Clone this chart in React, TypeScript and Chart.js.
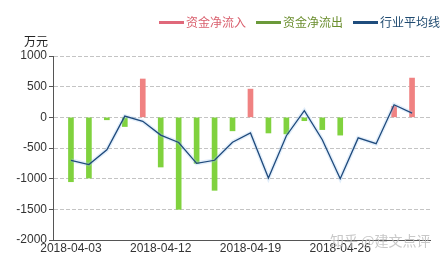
import React, { useEffect, useRef } from 'react';
import { Chart, registerables } from 'chart.js';
Chart.register(...registerables);

const dates = ['2018-04-03','2018-04-04','2018-04-09','2018-04-10','2018-04-11','2018-04-12','2018-04-13','2018-04-16','2018-04-17','2018-04-18','2018-04-19','2018-04-20','2018-04-23','2018-04-24','2018-04-25','2018-04-26','2018-04-27','2018-05-02','2018-05-03','2018-05-04'];
const netFlow = [-1050,-990,-40,-150,625,-810,-1500,-750,-1190,-220,460,-255,-270,-55,-200,-290,0,0,180,640];
const industryAvg = [-700,-770,-530,20,-65,-290,-410,-750,-700,-405,-255,-990,-300,110,-365,-1000,-335,-430,205,70];
const yTicks = [1000,500,0,-500,-1000,-1500,-2000];
const labeledDates = ['2018-04-03','2018-04-12','2018-04-19','2018-04-26'];

const seriesNames = ['资金净流入','资金净流出','行业平均线'];
const legendLineColors = ['#e0687a','#6b9a3a','#1f4d7d'];
const legendTextColors = ['#d9606e','#6b8e2e','#1f4a70'];

export default function App() {
  const ref = useRef<HTMLCanvasElement | null>(null);
  useEffect(() => {
    document.body.style.margin = '0';
    if (!ref.current) return;
    const labels = ['', ...dates, ''];
    const inflow = [null, ...netFlow.map(v => (v > 0 ? v : null)), null];
    const outflow = [null, ...netFlow.map(v => (v < 0 ? v : null)), null];
    const avg = [null, ...industryAvg, null];
    const chart = new Chart(ref.current, {
      type: 'bar',
      data: {
        labels,
        datasets: [
          { type: 'line', label: seriesNames[2], data: avg as any, borderColor: '#1f4a7c', borderWidth: 1.3, pointRadius: 0, tension: 0, order: 0 },
          { type: 'line', label: 'glow', data: avg as any, borderColor: 'rgba(160,200,240,0.3)', borderWidth: 4, pointRadius: 0, tension: 0, order: 1 },
          { type: 'bar', label: seriesNames[0], data: inflow as any, backgroundColor: '#f08282', barThickness: 5, grouped: false, order: 2 },
          { type: 'bar', label: seriesNames[1], data: outflow as any, backgroundColor: '#80d23e', barThickness: 5, grouped: false, order: 3 },
        ],
      },
      options: {
        animation: false,
        responsive: true,
        maintainAspectRatio: false,
        layout: { padding: { top: 56, right: 10, left: 0, bottom: 0 } },
        plugins: { legend: { display: false }, tooltip: { enabled: false } },
        scales: {
          x: {
            type: 'category',
            offset: false,
            grid: { display: false, drawTicks: false },
            border: { display: true, color: '#555', width: 1 },
            ticks: {
              autoSkip: false,
              maxRotation: 0,
              padding: 1,
              color: '#333',
              font: { family: 'Liberation Sans, Arial, sans-serif', size: 12 },
              callback: function (this: any, val: any) {
                const l = this.getLabelForValue(val);
                return labeledDates.includes(l) ? l : '';
              },
            },
            afterFit: (s: any) => { s.height = 25; },
          },
          y: {
            min: -2000,
            max: 1000,
            grid: { color: '#c4c4c4', lineWidth: 1, drawTicks: true, tickLength: 4, tickColor: '#555' },
            border: { display: true, color: '#555', width: 1, dash: [4, 2] },
            ticks: {
              padding: 2,
              color: '#333',
              font: { family: 'Liberation Sans, Arial, sans-serif', size: 12 },
              callback: (v: any) => String(v),
            },
            afterBuildTicks: (s: any) => { s.ticks = yTicks.map(v => ({ value: v })); },
            afterFit: (s: any) => { s.width = 53; },
          },
        },
      },
    });
    return () => chart.destroy();
  }, []);

  const legendPos = [159, 256, 353];
  return (
    <div style={{ position: 'relative', width: 440, height: 265, overflow: 'hidden', background: '#fff' }}>
      <canvas ref={ref} style={{ position: 'absolute', left: 0, top: 0 }} />
      {seriesNames.map((n, i) => (
        <div key={n} style={{ position: 'absolute', left: legendPos[i], top: 14, height: 16, display: 'flex', alignItems: 'center', whiteSpace: 'nowrap' }}>
          <span style={{ display: 'inline-block', width: 25, height: 3, background: legendLineColors[i] }} />
          <span style={{ marginLeft: 2, color: legendTextColors[i], fontFamily: '"Noto Sans CJK SC", sans-serif', fontSize: 12, lineHeight: '16px' }}>{n}</span>
        </div>
      ))}
      <div style={{ position: 'absolute', left: 24, top: 33, fontFamily: '"Noto Sans CJK SC", sans-serif', fontSize: 12, lineHeight: '16px', color: '#222' }}>万元</div>
      <div style={{ position: 'absolute', left: 330, top: 231, fontFamily: '"Noto Sans CJK SC", sans-serif', fontSize: 14, lineHeight: '18px', color: 'rgba(190,190,190,0.85)', whiteSpace: 'nowrap' }}>知乎 @建文点评</div>
    </div>
  );
}
